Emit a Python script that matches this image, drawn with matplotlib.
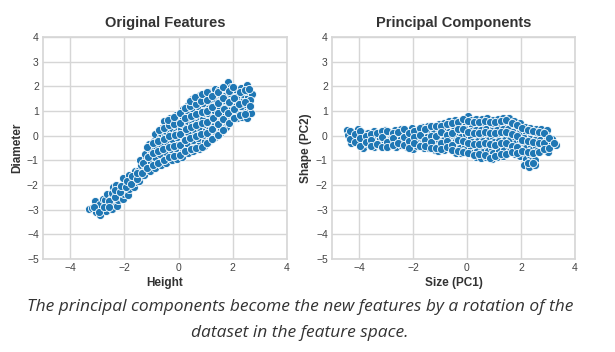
import matplotlib
matplotlib.use("Agg")
import matplotlib.pyplot as plt

# ---- Original features (Height, Diameter) ----
height = [
    -3.32, -3.18,
    -3.05, -3.00, -3.08,
    -2.88, -2.82, -2.90, -2.78,
    -2.66, -2.62, -2.70, -2.64,
    -2.46, -2.42, -2.50, -2.44, -2.40,
    -2.28, -2.22, -2.26, -2.20, -2.30,
    -2.06, -2.02, -2.08, -2.00, -2.04,
    -1.86, -1.82, -1.88, -1.80, -1.84,
    -1.66, -1.62, -1.68, -1.60,
    -1.46, -1.42, -1.48, -1.40, -1.44,
    -1.26, -1.22, -1.28, -1.20, -1.24,
    -1.06, -1.02, -1.08, -1.00, -1.04, -1.10,
    -0.86, -0.82, -0.88, -0.80, -0.84, -0.90, -0.86,
    -0.66, -0.62, -0.68, -0.60, -0.64, -0.70, -0.66, -0.62,
    -0.46, -0.42, -0.48, -0.40, -0.44, -0.50, -0.46, -0.42, -0.55,
    -0.26, -0.22, -0.28, -0.20, -0.24, -0.30, -0.26, -0.22, -0.30,
    -0.06, -0.02, -0.08, 0.00, -0.04, -0.10, -0.06, -0.02, -0.10,
    0.14, 0.18, 0.12, 0.20, 0.16, 0.10, 0.14, 0.18, 0.10, 0.16,
    0.34, 0.38, 0.32, 0.40, 0.36, 0.30, 0.34, 0.38, 0.30, 0.36,
    0.54, 0.58, 0.52, 0.60, 0.56, 0.50, 0.54, 0.58, 0.50, 0.56, 0.48,
    0.74, 0.78, 0.72, 0.80, 0.76, 0.70, 0.74, 0.78, 0.70, 0.76, 0.80,
    0.94, 0.98, 0.92, 1.00, 0.96, 0.90, 0.94, 0.98, 0.90, 0.96, 1.00,
    1.14, 1.18, 1.12, 1.20, 1.16, 1.10, 1.14, 1.18, 1.10, 1.16,
    1.34, 1.38, 1.32, 1.40, 1.36, 1.30, 1.34, 1.38, 1.30, 1.36,
    1.54, 1.58, 1.52, 1.60, 1.56, 1.50, 1.54, 1.58, 1.50,
    1.74, 1.78, 1.72, 1.80, 1.76, 1.70, 1.74, 1.78, 1.84,
    1.94, 1.98, 1.92, 2.00, 1.96, 1.90, 1.94,
    2.14, 2.18, 2.12, 2.20, 2.16, 2.10,
    2.34, 2.38, 2.32, 2.40, 2.36, 2.30,
    2.52, 2.58, 2.50, 2.56, 2.50, 2.52,
    2.68, 2.70, 2.64,
]
diameter = [
    -2.98, -2.95,
    -3.08, -2.82, -2.66,
    -3.20, -2.98, -2.75, -2.58,
    -3.05, -2.82, -2.60, -2.38,
    -2.98, -2.76, -2.55, -2.32, -2.10,
    -2.85, -2.62, -2.40, -2.18, -1.98,
    -2.58, -2.36, -2.14, -1.92, -1.72,
    -2.40, -2.18, -1.96, -1.75, -1.58,
    -2.10, -1.88, -1.68, -1.45,
    -1.85, -1.62, -1.42, -1.20, -1.00,
    -1.60, -1.38, -1.16, -0.94, -0.74,
    -1.42, -1.20, -0.98, -0.76, -0.54, -0.32,
    -1.30, -1.08, -0.86, -0.64, -0.42, -0.20, 0.05,
    -1.20, -0.98, -0.76, -0.54, -0.32, -0.10, 0.12, 0.32,
    -1.12, -0.90, -0.68, -0.46, -0.24, -0.02, 0.20, 0.42, 0.58,
    -1.00, -0.78, -0.56, -0.34, -0.12, 0.10, 0.32, 0.54, 0.72,
    -0.95, -0.72, -0.50, -0.28, -0.06, 0.16, 0.38, 0.60, 0.82,
    -0.85, -0.62, -0.40, -0.18, 0.04, 0.26, 0.48, 0.70, 0.92, 1.10,
    -0.72, -0.50, -0.28, -0.06, 0.16, 0.38, 0.60, 0.82, 1.04, 1.26,
    -0.62, -0.40, -0.18, 0.04, 0.26, 0.48, 0.70, 0.92, 1.14, 1.36, 1.50,
    -0.55, -0.32, -0.10, 0.12, 0.34, 0.56, 0.78, 1.00, 1.22, 1.44, 1.64,
    -0.42, -0.20, 0.02, 0.24, 0.46, 0.68, 0.90, 1.12, 1.34, 1.56, 1.72,
    -0.20, 0.02, 0.24, 0.46, 0.68, 0.90, 1.12, 1.34, 1.56, 1.78,
    -0.05, 0.16, 0.38, 0.60, 0.82, 1.04, 1.26, 1.48, 1.70, 1.88,
    0.10, 0.32, 0.54, 0.76, 0.98, 1.20, 1.42, 1.64, 1.86,
    0.35, 0.56, 0.78, 1.00, 1.22, 1.44, 1.66, 1.88, 2.18,
    0.62, 0.84, 1.06, 1.28, 1.50, 1.72, 1.96,
    0.72, 0.96, 1.20, 1.42, 1.64, 1.90,
    0.74, 0.98, 1.22, 1.46, 1.68, 1.92,
    0.72, 0.94, 1.30, 1.55, 1.80, 2.06,
    0.92, 1.68, 1.45,
]
# second, in-between layer of points of the same cloud
height_b = [
    -3.12, -2.95, -2.75, -2.55, -2.58, -2.35, -2.36, -2.15, -2.12, -1.95,
    -1.92, -1.75, -1.72, -1.55, -1.52, -1.35, -1.32, -1.15, -1.14, -1.16,
    -0.95, -0.96, -0.94, -0.75, -0.74, -0.76, -0.72, -0.55, -0.56, -0.54,
    -0.52, -0.35, -0.36, -0.34, -0.35, -0.38, -0.15, -0.16, -0.14, -0.15,
    -0.18, 0.05, 0.04, 0.06, 0.05, 0.04, 0.25, 0.24, 0.26, 0.25,
    0.24, 0.45, 0.44, 0.46, 0.45, 0.44, 0.42, 0.65, 0.64, 0.66,
    0.65, 0.64, 0.62, 0.85, 0.84, 0.86, 0.85, 0.84, 0.86, 1.05,
    1.04, 1.06, 1.05, 1.04, 1.06, 1.25, 1.24, 1.26, 1.25, 1.24,
    1.45, 1.44, 1.46, 1.45, 1.44, 1.65, 1.64, 1.66, 1.65, 1.64,
    1.85, 1.84, 1.86, 1.85, 2.05, 2.04, 2.06, 2.02, 2.25, 2.24,
    2.26, 2.45, 2.44, 2.46, 2.62, 2.60,
]
diameter_b = [
    -2.88, -3.10, -2.90, -2.65, -2.88, -2.50, -2.20, -2.28, -2.05, -2.10,
    -1.85, -1.95, -1.62, -1.75, -1.52, -1.50, -1.10, -1.30, -0.86, -0.45,
    -1.18, -0.72, -0.30, -1.10, -0.64, -0.20, 0.22, -0.98, -0.56, -0.14,
    0.30, -0.88, -0.44, 0.00, 0.44, 0.62, -0.84, -0.40, 0.04, 0.48,
    0.76, -0.80, -0.36, 0.08, 0.52, 0.90, -0.62, -0.18, 0.26, 0.70,
    1.12, -0.55, -0.10, 0.34, 0.78, 1.20, 1.42, -0.48, -0.02, 0.44,
    0.88, 1.30, 1.58, -0.46, 0.08, 0.52, 0.96, 1.40, 1.68, -0.30,
    0.12, 0.56, 1.00, 1.46, 1.76, -0.12, 0.28, 0.72, 1.16, 1.60,
    0.02, 0.46, 0.90, 1.34, 1.78, 0.22, 0.66, 1.10, 1.54, 1.96,
    0.50, 0.92, 1.36, 1.80, 0.70, 1.08, 1.52, 1.98, 0.82, 1.30,
    1.76, 0.86, 1.38, 1.86, 1.20, 1.90,
]

# ---- Principal components (Size PC1, Shape PC2) ----
pc1 = [
    -4.45, -4.42,
    -4.25, -4.22, -4.28,
    -4.05, -4.02, -4.08, -4.04,
    -3.85, -3.82, -3.88, -3.84,
    -3.65, -3.62, -3.68,
    -3.45, -3.42, -3.48, -3.44,
    -3.25, -3.22, -3.28,
    -3.05, -3.02, -3.08, -3.04,
    -2.85, -2.82, -2.88,
    -2.65, -2.62, -2.68, -2.64,
    -2.45, -2.42, -2.48, -2.44,
    -2.25, -2.22, -2.28, -2.24,
    -2.05, -2.02, -2.08, -2.04, -2.00,
    -1.85, -1.82, -1.88, -1.84,
    -1.65, -1.62, -1.68, -1.64, -1.60,
    -1.45, -1.42, -1.48, -1.44, -1.40,
    -1.25, -1.22, -1.28, -1.24, -1.20,
    -1.05, -1.02, -1.08, -1.04, -1.00, -1.06,
    -0.85, -0.82, -0.88, -0.84, -0.80, -0.86,
    -0.65, -0.62, -0.68, -0.64, -0.60, -0.66,
    -0.45, -0.42, -0.48, -0.44, -0.40, -0.46, -0.42,
    -0.25, -0.22, -0.28, -0.24, -0.20, -0.26, -0.22,
    -0.05, -0.02, -0.08, -0.04, 0.00, -0.06, -0.02,
    0.05,
    0.15, 0.18, 0.12, 0.16, 0.20, 0.14, 0.18,
    0.35, 0.38, 0.32, 0.36, 0.40, 0.34, 0.38, 0.32,
    0.55, 0.58, 0.52, 0.56, 0.60, 0.54, 0.58, 0.52,
    0.75, 0.78, 0.72, 0.76, 0.80, 0.74, 0.78, 0.72,
    0.95, 0.98, 0.92, 0.96, 1.00, 0.94, 0.98, 0.92,
    1.15, 1.18, 1.12, 1.16, 1.20, 1.14, 1.18, 1.12,
    1.35, 1.38, 1.32, 1.36, 1.40, 1.34, 1.38, 1.32,
    1.55, 1.58, 1.52, 1.56, 1.60, 1.54, 1.58,
    1.75, 1.78, 1.72, 1.76, 1.80, 1.74, 1.78,
    1.95, 1.98, 1.92, 1.96, 2.00, 1.94, 1.98,
    2.15, 2.18, 2.12, 2.16, 2.20, 2.14, 2.18, 2.12,
    2.35, 2.38, 2.32, 2.36, 2.40, 2.34, 2.38, 2.30,
    2.55, 2.58, 2.52, 2.56, 2.60, 2.50, 2.52,
    2.75, 2.78, 2.72, 2.76, 2.80,
    2.95, 2.98, 2.92, 2.96, 3.00,
    3.15, 3.12,
    3.28,
]
pc2 = [
    0.25, 0.02,
    0.15, -0.10, -0.28,
    0.26, 0.04, -0.18, -0.30,
    0.12, -0.10, -0.32, -0.50,
    0.10, -0.12, -0.34,
    0.18, -0.04, -0.26, -0.45,
    0.08, -0.14, -0.36,
    0.25, 0.03, -0.19, -0.41,
    0.10, -0.12, -0.34,
    0.22, 0.00, -0.22, -0.44,
    0.28, 0.06, -0.16, -0.38,
    0.20, -0.02, -0.24, -0.46,
    0.30, 0.08, -0.14, -0.36, -0.55,
    0.24, 0.02, -0.20, -0.42,
    0.36, 0.14, -0.08, -0.30, -0.50,
    0.40, 0.18, -0.04, -0.26, -0.48,
    0.32, 0.10, -0.12, -0.34, -0.60,
    0.48, 0.26, 0.04, -0.18, -0.40, -0.62,
    0.50, 0.28, 0.06, -0.16, -0.38, -0.58,
    0.58, 0.36, 0.14, -0.08, -0.30, -0.52,
    0.65, 0.43, 0.21, -0.01, -0.23, -0.45, -0.70,
    0.60, 0.38, 0.16, -0.06, -0.28, -0.50, -0.72,
    0.72, 0.50, 0.28, 0.06, -0.16, -0.38, -0.60,
    0.80,
    0.62, 0.40, 0.18, -0.04, -0.26, -0.48, -0.72,
    0.68, 0.46, 0.24, 0.02, -0.20, -0.42, -0.64, -0.88,
    0.66, 0.44, 0.22, 0.00, -0.22, -0.44, -0.66, -0.90,
    0.70, 0.48, 0.26, 0.04, -0.18, -0.40, -0.62, -0.86,
    0.62, 0.40, 0.18, -0.04, -0.26, -0.48, -0.70, -0.94,
    0.68, 0.46, 0.24, 0.02, -0.20, -0.42, -0.64, -0.88,
    0.72, 0.50, 0.28, 0.06, -0.16, -0.38, -0.60, -0.82,
    0.70, 0.48, 0.26, 0.04, -0.18, -0.40, -0.62,
    0.60, 0.38, 0.16, -0.06, -0.28, -0.50, -0.74,
    0.50, 0.28, 0.06, -0.16, -0.38, -0.60, -0.82,
    0.36, 0.14, -0.08, -0.30, -0.52, -0.74, -0.96, -1.18,
    0.30, 0.08, -0.14, -0.36, -0.58, -0.80, -1.02, -1.25,
    0.26, 0.04, -0.18, -0.40, -0.62, -0.98, -1.18,
    0.28, 0.06, -0.16, -0.38, -0.60,
    0.22, 0.00, -0.22, -0.44, -0.68,
    -0.15, -0.37,
    -0.38,
]
pc1_b = [
    -4.35, -4.35, -4.15, -4.15, -3.95, -3.95, -3.95, -3.75, -3.75, -3.55,
    -3.55, -3.55, -3.35, -3.35, -3.15, -3.15, -3.15, -2.95, -2.95, -2.95,
    -2.75, -2.75, -2.75, -2.55, -2.55, -2.35, -2.35, -2.35, -2.15, -2.15,
    -2.15, -1.95, -1.95, -1.95, -1.75, -1.75, -1.75, -1.55, -1.55, -1.55,
    -1.35, -1.35, -1.35, -1.35, -1.15, -1.15, -1.15, -0.95, -0.95, -0.95,
    -0.95, -0.75, -0.75, -0.75, -0.75, -0.55, -0.55, -0.55, -0.55, -0.35,
    -0.35, -0.35, -0.35, -0.15, -0.15, -0.15, -0.15, 0.05, 0.05, 0.05,
    0.05, 0.25, 0.25, 0.25, 0.25, 0.45, 0.45, 0.45, 0.45, 0.65,
    0.65, 0.65, 0.65, 0.85, 0.85, 0.85, 0.85, 1.05, 1.05, 1.05,
    1.05, 1.25, 1.25, 1.25, 1.25, 1.45, 1.45, 1.45, 1.45, 1.65,
    1.65, 1.65, 1.65, 1.85, 1.85, 1.85, 1.85, 2.05, 2.05, 2.05,
    2.25, 2.25, 2.25, 2.25, 2.45, 2.45, 2.45, 2.45, 2.65, 2.65,
    2.65, 2.85, 2.85, 2.85, 3.05, 3.05, 3.22,
]
pc2_b = [
    0.18, -0.15, 0.05, -0.25, 0.20, -0.08, -0.42, 0.00, -0.24, 0.08,
    -0.16, -0.40, 0.10, -0.32, 0.18, -0.06, -0.44, 0.20, -0.24, -0.46,
    0.12, -0.10, -0.36, 0.16, -0.28, 0.26, -0.06, -0.36, 0.12, -0.20,
    -0.50, 0.20, -0.06, -0.30, 0.30, 0.04, -0.40, 0.28, -0.16, -0.42,
    0.38, 0.00, -0.24, -0.52, 0.40, -0.02, -0.50, 0.38, 0.16, -0.28,
    -0.56, 0.46, 0.02, -0.20, -0.44, 0.50, 0.10, -0.36, -0.60, 0.54,
    0.28, -0.16, -0.62, 0.66, 0.26, -0.20, -0.66, 0.60, 0.16, -0.28,
    -0.70, 0.56, 0.12, -0.34, -0.80, 0.56, 0.12, -0.32, -0.76, 0.58,
    0.14, -0.30, -0.80, 0.56, 0.12, -0.34, -0.90, 0.54, 0.10, -0.36,
    -0.82, 0.60, 0.16, -0.28, -0.74, 0.62, 0.14, -0.30, -0.74, 0.50,
    0.06, -0.40, -0.66, 0.44, 0.00, -0.46, -0.72, 0.30, -0.18, -0.64,
    0.24, -0.20, -0.66, -1.10, 0.20, -0.26, -0.70, -1.12, 0.16, -0.30,
    -0.68, 0.10, -0.30, -0.56, -0.10, -0.52, -0.30,
]

x_ticks = [-4, -2, 0, 2, 4]
y_ticks = [-5, -4, -3, -2, -1, 0, 1, 2, 3, 4]
titles = ["Original Features", "Principal Components"]
xlabels = ["Height", "Size (PC1)"]
ylabels = ["Diameter", "Shape (PC2)"]
caption = ("The principal components become the new features by a rotation of the\n"
           "dataset in the feature space.")

plt.rcParams["font.family"] = ["Liberation Sans", "DejaVu Sans"]

fig = plt.figure(figsize=(6.15, 3.52), dpi=100)
W, H = 615, 352
boxes = [(43, 37, 287, 259), (332, 37, 575, 259)]
data = [(height + height_b, diameter + diameter_b), (pc1 + pc1_b, pc2 + pc2_b)]

for i, (l, t, r, b) in enumerate(boxes):
    ax = fig.add_axes([l / W, 1 - b / H, (r - l) / W, (b - t) / H])
    ax.set_facecolor("white")
    ax.set_axisbelow(True)
    ax.grid(True, color="#d6d6d6", linewidth=1.0)
    for s in ax.spines.values():
        s.set_color("#d6d6d6")
        s.set_linewidth(1.2)
    xs, ys = data[i]
    ax.scatter(xs, ys, s=34, color="#1f77b4", edgecolors="white", linewidths=0.6, zorder=3)
    ax.set_xlim(-5, 4)
    ax.set_ylim(-5, 4)
    ax.set_xticks(x_ticks)
    ax.set_yticks(y_ticks)
    ax.set_xticklabels([str(v).replace("-", "\u2212") for v in x_ticks])
    ax.set_yticklabels([str(v).replace("-", "\u2212") for v in y_ticks])
    ax.tick_params(length=0, labelsize=7.5, labelcolor="#444444", pad=3)
    ax.set_title(titles[i], fontsize=10.5, fontweight="bold", color="#333333", pad=7)
    ax.set_xlabel(xlabels[i], fontsize=8.5, fontweight="bold", color="#333333", labelpad=3)
    ax.set_ylabel(ylabels[i], fontsize=8.5, fontweight="bold", color="#333333", labelpad=3)

fig.text(300 / W, 1 - 320 / H, caption, ha="center", va="center", fontsize=12.5,
         style="italic", family=["Open Sans", "DejaVu Sans"], color="#333333",
         linespacing=1.9)

fig.savefig("out.png", dpi=100, facecolor="white")
